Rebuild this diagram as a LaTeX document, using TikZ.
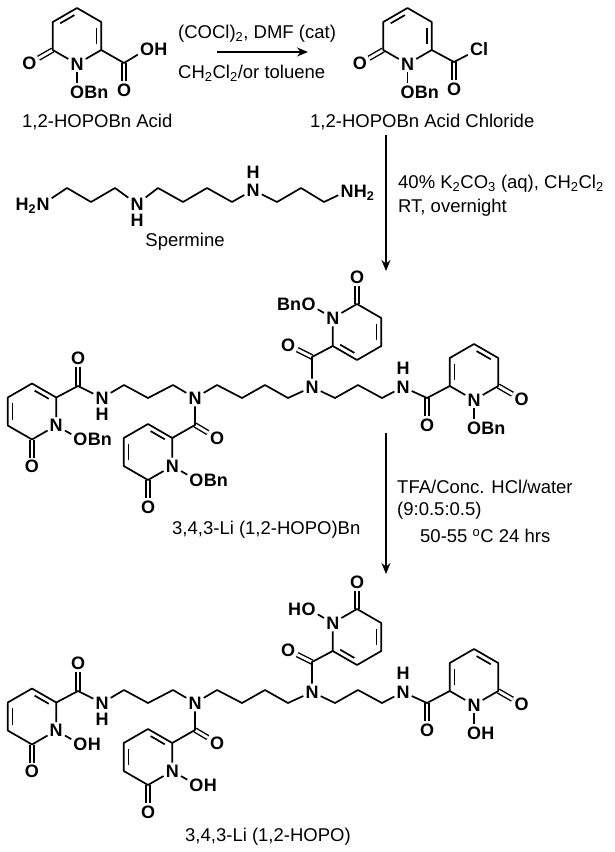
\documentclass[tikz,border=0pt]{standalone}
\usepackage{fontspec}
\setmainfont{Liberation Sans}
\usetikzlibrary{arrows.meta,calc,positioning}
\tikzstyle{atom}=[font=\fontsize{18}{20}\bfseries\selectfont, inner sep=2pt]
\tikzstyle{tail}=[font=\fontsize{18}{20}\bfseries\selectfont, inner sep=0pt]
\tikzstyle{bond}=[line width=1.7pt, line join=round]
\tikzstyle{dbond}=[line width=1.4pt, double, double distance=2.8pt]
\tikzstyle{scheme}=[line width=1.5pt, -{Stealth[length=11pt,width=9pt]}]
\tikzstyle{lbl}=[font=\fontsize{18.5}{20}\selectfont, inner sep=0pt]
\newcommand{\hoporing}[4]{
	\node[atom] (#1n) at ($#2+(#3:28)$) {N};
	\coordinate (#1a) at ($#2+(#3+#4*60:28)$);
	\coordinate (#1b) at ($#2+(#3+#4*120:28)$);
	\coordinate (#1c) at ($#2+(#3+#4*180:28)$);
	\coordinate (#1d) at ($#2+(#3+#4*240:28)$);
	\coordinate (#1e) at ($#2+(#3+#4*300:28)$);
	\node[atom] (#1q) at ($#2+(#3+#4*60:55)$) {O};
	\node[atom] (#1o) at ($#2+(#3:56)$) {O};
	\draw[dbond] (#1a) -- (#1q);
	\draw[bond] (#1n) -- (#1a) -- (#1b) -- (#1c) -- (#1d) -- (#1e) -- (#1n);
	\draw[bond] (#1n) -- (#1o);
	\draw[bond, shorten >=3pt, shorten <=3pt] ($(#1b)!.2!#2$) -- ($(#1c)!.2!#2$);
	\draw[bond, shorten >=3pt, shorten <=3pt] ($(#1d)!.2!#2$) -- ($(#1e)!.2!#2$);
}
\newcommand{\ligand}[3]{
	\begin{scope}[shift={(0,#2)}]
		\hoporing{#1l}{(32,411.5)}{30}{1}
		\hoporing{#1m}{(148,452)}{30}{1}
		\hoporing{#1u}{(357,332)}{210}{1}
		\hoporing{#1r}{(474,372)}{90}{-1}
		\node[tail, base right=-2pt of #1lo] (#1lt) {#3};
		\node[tail, base right=-2pt of #1mo] (#1mt) {#3};
		\node[tail, base left=-2pt of #1uo] (#1ut) {#3};
		\node[tail, base right=-2pt of #1ro] (#1rt) {#3};
%
		\node[atom] (#1na) at (102,398) {N};
		\node[tail] (#1ha) at (102,414.5) {H};
		\node[atom] (#1nb) at (195,398) {N};
		\node[atom] (#1nc) at (312,387) {N};
		\node[atom] (#1nd) at (403,387) {N};
		\node[tail] (#1hd) at (403,368) {H};
		\node[atom] (#1oa) at (78,358) {O};
		\node[atom] (#1ob) at (217,438) {O};
		\node[atom] (#1oc) at (288,345) {O};
		\node[atom] (#1od) at (427,425) {O};
		\path (78,386) coordinate (#1ca) (195,425) coordinate (#1cb) (312,357) coordinate (#1cc) (427,398) coordinate (#1cd);
		\path (124,385) coordinate (#1s1) (148,398) coordinate (#1s2) (173,385) coordinate (#1s3);
		\path (217,385) coordinate (#1s4) (242,398) coordinate (#1s5) (265,385) coordinate (#1s6) (288,398) coordinate (#1s7);
		\path (335,398) coordinate (#1s8) (358,385) coordinate (#1s9) (382,398) coordinate (#1s10);
%
		\draw[dbond] (#1ca) -- (#1oa);
		\draw[dbond] (#1cb) -- (#1ob);
		\draw[dbond] (#1cc) -- (#1oc);
		\draw[dbond] (#1cd) -- (#1od);
		\draw[bond] (#1le) -- (#1ca) -- (#1na) -- (#1s1) -- (#1s2) -- (#1s3) -- (#1nb);
		\draw[bond] (#1nb) -- (#1s4) -- (#1s5) -- (#1s6) -- (#1s7) -- (#1nc);
		\draw[bond] (#1nc) -- (#1s8) -- (#1s9) -- (#1s10) -- (#1nd) -- (#1cd) -- (#1re);
		\draw[bond] (#1nb) -- (#1cb) -- (#1me);
		\draw[bond] (#1nc) -- (#1cc) -- (#1ue);
	\end{scope}
}

\begin{document}
\begin{tikzpicture}[x=1pt, y=-1pt]
	\useasboundingbox (0,0) rectangle (615,852);
%
	\hoporing{aa}{(77,36)}{90}{1}
	\node[tail, base right=-2pt of aao] (aat) {Bn};
	\coordinate (aac1) at (124,63);
	\node[atom] (aah) at (147,49) {O};
	\node[tail, base right=-2pt of aah] (aahh) {H};
	\node[atom] (aax) at (124,90) {O};
	\draw[dbond] (aac1) -- (aax);
	\draw[bond] (aae) -- (aac1) -- (aah);
	\node[lbl, anchor=base west] (acid) at (22,127) {1,2-HOPOBn Acid};
%
	\hoporing{ac}{(407.5,36)}{90}{1}
	\node[tail, base right=-2pt of aco] (act) {Bn};
	\coordinate (acc1) at (454,62);
	\node[atom] (acl) at (479,49) {Cl};
	\node[atom] (acx) at (454,89) {O};
	\draw[dbond] (acc1) -- (acx);
	\draw[bond] (ace) -- (acc1) -- (acl);
	\node[lbl, anchor=base west] (chloride) at (310,127) {1,2-HOPOBn Acid Chloride};
%
	\node[lbl, anchor=base west] (reagA) at (178,38) {(COCl)\textsubscript{2}, DMF (cat)};
	\node[lbl, anchor=base west] (reagB) at (178,78) {CH\textsubscript{2}Cl\textsubscript{2}/or toluene};
	\coordinate (arrAs) at (217,52);
	\coordinate (arrAe) at (308,52);
	\draw[scheme] (arrAs) -- (arrAe);
%
	\node[atom] (spa) at (43,204) {N};
	\node[tail, base left=-2pt of spa] (spah) {H\textsubscript{2}};
	\node[atom] (spb) at (137,204) {N};
	\node[tail] (spbh) at (137,220.5) {H};
	\node[atom] (spc) at (253,190) {N};
	\node[tail] (spch) at (253,172) {H};
	\node[atom] (spd) at (347,191) {N};
	\node[tail, base right=-2pt of spd] (spdh) {H\textsubscript{2}};
	\path (67,188) coordinate (spv1) (91,202) coordinate (spv2) (115,188) coordinate (spv3);
	\path (158,188) coordinate (spv4) (183,202) coordinate (spv5) (207,188) coordinate (spv6) (232,202) coordinate (spv7);
	\path (277,202) coordinate (spv8) (301,188) coordinate (spv9) (324,202) coordinate (spv10);
	\draw[bond] (spa) -- (spv1) -- (spv2) -- (spv3) -- (spb) -- (spv4) -- (spv5) -- (spv6) -- (spv7) -- (spc);
	\draw[bond] (spc) -- (spv8) -- (spv9) -- (spv10) -- (spd);
	\node[lbl, anchor=base] (spermine) at (185,246) {Spermine};
%
	\coordinate (arrBs) at (386,135);
	\coordinate (arrBe) at (386,271);
	\draw[scheme] (arrBs) -- (arrBe);
	\node[lbl, anchor=base west] (condA) at (398,188.5) {40\% K\textsubscript{2}CO\textsubscript{3} (aq), CH\textsubscript{2}Cl\textsubscript{2}};
	\node[lbl, anchor=base west] (condB) at (398,212.5) {RT, overnight};
%
	\ligand{bn}{0}{Bn}
	\node[lbl, anchor=base west] (bnname) at (172,534) {3,4,3-Li (1,2-HOPO)Bn};
%
	\coordinate (arrCs) at (386,433);
	\coordinate (arrCe) at (386,574);
	\draw[scheme] (arrCs) -- (arrCe);
	\node[lbl, anchor=base west] (condC) at (397,493.5) {TFA/Conc. HCl/water};
	\node[lbl, anchor=base west] (condD) at (397,515.5) {(9:0.5:0.5)};
	\node[lbl, anchor=base west] (condE) at (420,542.5) {50-55 \textsuperscript{o}C 24 hrs};
%
	\ligand{oh}{305}{H}
	\node[lbl, anchor=base west] (ohname) at (185,841) {3,4,3-Li (1,2-HOPO)};
\end{tikzpicture}
\end{document}
